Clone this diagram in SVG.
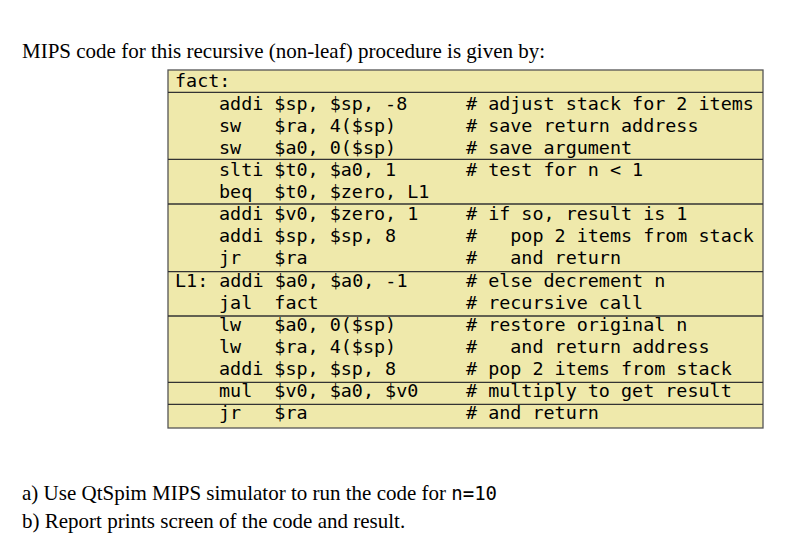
<svg xmlns="http://www.w3.org/2000/svg" width="786" height="543" viewBox="0 0 786 543">
<style>
.t{font-family:"Liberation Serif",serif;font-size:21px;fill:#000}
.m{font-family:"DejaVu Sans Mono",monospace;font-size:18.4px;fill:#000;white-space:pre}
.sep{stroke:#333;stroke-width:1.3}
</style>
<rect width="786" height="543" fill="#fff"/>
<text class="t" x="22" y="58">MIPS code for this recursive (non-leaf) procedure is given by:</text>
<g id="table">
<rect x="168" y="70" width="595" height="358" fill="#efe9ab" stroke="#555" stroke-width="1.3"/>
<line class="sep" x1="168" y1="92.3" x2="763" y2="92.3"/>
<line class="sep" x1="168" y1="159.3" x2="763" y2="159.3"/>
<line class="sep" x1="168" y1="204" x2="763" y2="204"/>
<line class="sep" x1="168" y1="271.7" x2="763" y2="271.7"/>
<line class="sep" x1="168" y1="316" x2="763" y2="316"/>
<line class="sep" x1="168" y1="382.3" x2="763" y2="382.3"/>
<line class="sep" x1="168" y1="404.3" x2="763" y2="404.3"/>
<g xml:space="preserve">
<text class="m" x="175" y="87">fact:</text>
<text class="m" x="219" y="110">addi $sp, $sp, -8</text>
<text class="m" x="219" y="132">sw   $ra, 4($sp)</text>
<text class="m" x="219" y="154">sw   $a0, 0($sp)</text>
<text class="m" x="219" y="176">slti $t0, $a0, 1</text>
<text class="m" x="219" y="198">beq  $t0, $zero, L1</text>
<text class="m" x="219" y="220">addi $v0, $zero, 1</text>
<text class="m" x="219" y="242">addi $sp, $sp, 8</text>
<text class="m" x="219" y="264">jr   $ra</text>
<text class="m" x="175" y="287">L1: addi $a0, $a0, -1</text>
<text class="m" x="219" y="309">jal  fact</text>
<text class="m" x="219" y="331">lw   $a0, 0($sp)</text>
<text class="m" x="219" y="353">lw   $ra, 4($sp)</text>
<text class="m" x="219" y="375">addi $sp, $sp, 8</text>
<text class="m" x="219" y="397">mul  $v0, $a0, $v0</text>
<text class="m" x="219" y="419">jr   $ra</text>
<text class="m" x="466" y="110"># adjust stack for 2 items</text>
<text class="m" x="466" y="132"># save return address</text>
<text class="m" x="466" y="154"># save argument</text>
<text class="m" x="466" y="176"># test for n &lt; 1</text>
<text class="m" x="466" y="220"># if so, result is 1</text>
<text class="m" x="466" y="242">#   pop 2 items from stack</text>
<text class="m" x="466" y="264">#   and return</text>
<text class="m" x="466" y="287"># else decrement n</text>
<text class="m" x="466" y="309"># recursive call</text>
<text class="m" x="466" y="331"># restore original n</text>
<text class="m" x="466" y="353">#   and return address</text>
<text class="m" x="466" y="375"># pop 2 items from stack</text>
<text class="m" x="466" y="397"># multiply to get result</text>
<text class="m" x="466" y="419"># and return</text>
</g>
</g>
<text class="t" x="22" y="500">a)  Use QtSpim MIPS simulator to run the code for <tspan font-family="DejaVu Sans Mono,monospace" font-size="19">n=10</tspan></text>
<text class="t" x="22" y="528">b)  Report prints screen of the code and result.</text>
</svg>
